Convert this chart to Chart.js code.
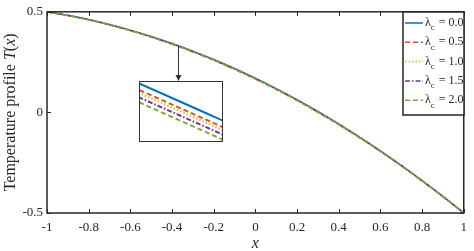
<!DOCTYPE html>
<html>
<head>
<meta charset="utf-8">
<script src="https://cdn.jsdelivr.net/npm/chart.js@4.4.1/dist/chart.umd.min.js"></script>
<style>
  html, body { margin: 0; padding: 0; background: #fff; }
  #wrap { position: relative; width: 474px; height: 251px; }
  canvas { display: block; }
  #inset { position: absolute; left: 139px; top: 81px; width: 84px; height: 61px;
           box-sizing: border-box; border: 1px solid #333; background: #fff; }
</style>
</head>
<body>
<div id="wrap">
  <canvas id="grafica" width="474" height="251"></canvas>
  <div id="inset"><canvas id="zoom" width="82" height="59"></canvas></div>
</div>
<script>
// datos
const xVals = [-1, -0.9, -0.8, -0.7, -0.6, -0.5, -0.4, -0.3, -0.2, -0.1, 0,
               0.1, 0.2, 0.3, 0.4, 0.5, 0.6, 0.7, 0.8, 0.9, 1];
const lambdas = ["0.0", "0.5", "1.0", "1.5", "2.0"];
const t00 = [0.5, 0.4823, 0.4612, 0.4367, 0.4088, 0.3775, 0.3428, 0.3047, 0.2632, 0.2183, 0.1700,
             0.1183, 0.0632, 0.0047, -0.0572, -0.1225, -0.1912, -0.2633, -0.3388, -0.4177, -0.5];
const t05 = [0.5, 0.4820, 0.4606, 0.4359, 0.4078, 0.3763, 0.3415, 0.3032, 0.2617, 0.2167, 0.1684,
             0.1167, 0.0617, 0.0032, -0.0585, -0.1237, -0.1922, -0.2641, -0.3394, -0.4180, -0.5];
const t10 = [0.5, 0.4819, 0.4604, 0.4355, 0.4073, 0.3758, 0.3409, 0.3026, 0.2610, 0.2160, 0.1677,
             0.1160, 0.0610, 0.0026, -0.0591, -0.1242, -0.1927, -0.2645, -0.3396, -0.4181, -0.5];
const t15 = [0.5, 0.4817, 0.4600, 0.4350, 0.4067, 0.3750, 0.3400, 0.3017, 0.2600, 0.2150, 0.1667,
             0.1150, 0.0600, 0.0017, -0.0600, -0.1250, -0.1933, -0.2650, -0.3400, -0.4183, -0.5];
const t20 = [0.5, 0.4814, 0.4596, 0.4344, 0.4059, 0.3741, 0.3390, 0.3006, 0.2589, 0.2138, 0.1655,
             0.1138, 0.0589, 0.0006, -0.0610, -0.1259, -0.1941, -0.2656, -0.3406, -0.4186, -0.5];
const xTicks = [-1, -0.8, -0.6, -0.4, -0.2, 0, 0.2, 0.4, 0.6, 0.8, 1];
const yTicks = [-0.5, 0, 0.5];

const series = [t00, t05, t10, t15, t20];
const colores = ["#0072BD", "#D95319", "#EDB120", "#7E2F8E", "#77AC30"];
const trazos = [[], [5, 3], [1.5, 2], [5, 2, 1.5, 2], [5, 3]];

// ventana del zoom
const zoomX = [-0.41, -0.39];
const zoomY = [0.33498, 0.34681];
const flecha = { x: -0.37, y: 0.332 };

const fuente = "'Liberation Serif', 'Times New Roman', serif";
const gris = "#262626";

function armarDatasets(ancho) {
    return series.map((s, i) => ({
        label: "λc = " + lambdas[i],
        data: s.map((v, j) => ({ x: xVals[j], y: v })),
        borderColor: colores[i],
        borderWidth: ancho,
        borderDash: trazos[i],
        pointRadius: 0,
        fill: false,
        cubicInterpolationMode: "monotone",
        order: series.length - i
    }));
}

const marco = {
    id: "marco",
    afterDatasetsDraw(chart) {
        const { ctx, chartArea: a, scales: { x, y } } = chart;
        ctx.save();
        ctx.strokeStyle = gris;
        ctx.lineWidth = 1;
        ctx.beginPath();
        xTicks.forEach(t => {
            const px = Math.round(x.getPixelForValue(t)) + 0.5;
            ctx.moveTo(px, a.bottom); ctx.lineTo(px, a.bottom - 4);
            ctx.moveTo(px, a.top); ctx.lineTo(px, a.top + 4);
        });
        yTicks.forEach(t => {
            const py = Math.round(y.getPixelForValue(t)) + 0.5;
            ctx.moveTo(a.left, py); ctx.lineTo(a.left + 4, py);
            ctx.moveTo(a.right, py); ctx.lineTo(a.right - 4, py);
        });
        ctx.stroke();
        ctx.lineWidth = 1.5;
        ctx.strokeRect(a.left, a.top, a.right - a.left, a.bottom - a.top);

        // flecha hacia el recuadro
        const fx = Math.round(x.getPixelForValue(flecha.x)) + 0.5;
        const fy = y.getPixelForValue(flecha.y);
        const fin = 81;
        ctx.strokeStyle = "#333";
        ctx.fillStyle = "#333";
        ctx.lineWidth = 1;
        ctx.beginPath();
        ctx.moveTo(fx, fy); ctx.lineTo(fx, fin - 5);
        ctx.stroke();
        ctx.beginPath();
        ctx.moveTo(fx - 3, fin - 6); ctx.lineTo(fx + 3, fin - 6); ctx.lineTo(fx, fin);
        ctx.closePath();
        ctx.fill();

        // titulo eje y
        ctx.translate(11, (a.top + a.bottom) / 2);
        ctx.rotate(-Math.PI / 2);
        const partes = [["Temperature profile ", ""], ["T", "italic "], ["(", ""], ["x", "italic "], [")", ""]];
        let total = 0;
        partes.forEach(p => { ctx.font = p[1] + "16px " + fuente; total += ctx.measureText(p[0]).width; });
        let cx = -total / 2;
        ctx.fillStyle = gris;
        ctx.textBaseline = "middle";
        partes.forEach(p => {
            ctx.font = p[1] + "16px " + fuente;
            ctx.fillText(p[0], cx, 0);
            cx += ctx.measureText(p[0]).width;
        });
        ctx.restore();

        // leyenda
        ctx.save();
        const lx = 403, ly = 12, lw = 61, lh = 103;
        ctx.fillStyle = "#fff";
        ctx.fillRect(lx, ly, lw, lh);
        ctx.strokeStyle = gris;
        ctx.lineWidth = 1.5;
        ctx.strokeRect(lx, ly, lw, lh);
        chart.data.datasets.forEach((d, i) => {
            const ry = ly + 11 + i * 19.3;
            ctx.strokeStyle = d.borderColor;
            ctx.lineWidth = 1.5;
            ctx.setLineDash(d.borderDash);
            ctx.beginPath();
            ctx.moveTo(lx + 2, ry); ctx.lineTo(lx + 20, ry);
            ctx.stroke();
            ctx.setLineDash([]);
            ctx.fillStyle = gris;
            ctx.textBaseline = "middle";
            let tx = lx + 22;
            ctx.font = "12px " + fuente;
            ctx.fillText("λ", tx, ry);
            tx += ctx.measureText("λ").width;
            ctx.font = "9px " + fuente;
            ctx.fillText("c", tx, ry + 5);
            tx += ctx.measureText("c").width + 1;
            ctx.font = "12px " + fuente;
            ctx.fillText(" = " + lambdas[i], tx, ry);
        });
        ctx.restore();
    }
};

new Chart(document.getElementById("grafica").getContext("2d"), {
    type: "line",
    data: { datasets: armarDatasets(1.5) },
    options: {
        responsive: false,
        animation: false,
        layout: { padding: { top: 8, right: 6, left: 0, bottom: 0 } },
        plugins: { legend: { display: false }, tooltip: { enabled: false } },
        scales: {
            x: {
                type: "linear",
                min: -1,
                max: 1,
                afterFit: s => { s.height = 38; },
                afterBuildTicks: s => { s.ticks = xTicks.map(v => ({ value: v })); },
                grid: { display: false, drawTicks: false },
                border: { display: false },
                ticks: {
                    padding: 7,
                    color: gris,
                    font: { family: fuente, size: 13 },
                    maxRotation: 0,
                    callback: v => String(Math.round(v * 10) / 10)
                },
                title: {
                    display: true,
                    text: "x",
                    color: gris,
                    padding: { top: 0, bottom: -2 },
                    font: { family: fuente, size: 16, style: "italic" }
                }
            },
            y: {
                min: -0.5,
                max: 0.5,
                afterFit: s => { s.width = 47; },
                afterBuildTicks: s => { s.ticks = yTicks.map(v => ({ value: v })); },
                grid: { display: false, drawTicks: false },
                border: { display: false },
                ticks: {
                    padding: 4,
                    color: gris,
                    font: { family: fuente, size: 13 },
                    callback: v => String(Math.round(v * 10) / 10)
                }
            }
        }
    },
    plugins: [marco]
});

new Chart(document.getElementById("zoom").getContext("2d"), {
    type: "line",
    data: { datasets: armarDatasets(2) },
    options: {
        responsive: false,
        animation: false,
        layout: { padding: 0 },
        plugins: { legend: { display: false }, tooltip: { enabled: false } },
        scales: {
            x: { type: "linear", display: false, min: zoomX[0], max: zoomX[1] },
            y: { display: false, min: zoomY[0], max: zoomY[1] }
        }
    }
});
</script>
</body>
</html>
